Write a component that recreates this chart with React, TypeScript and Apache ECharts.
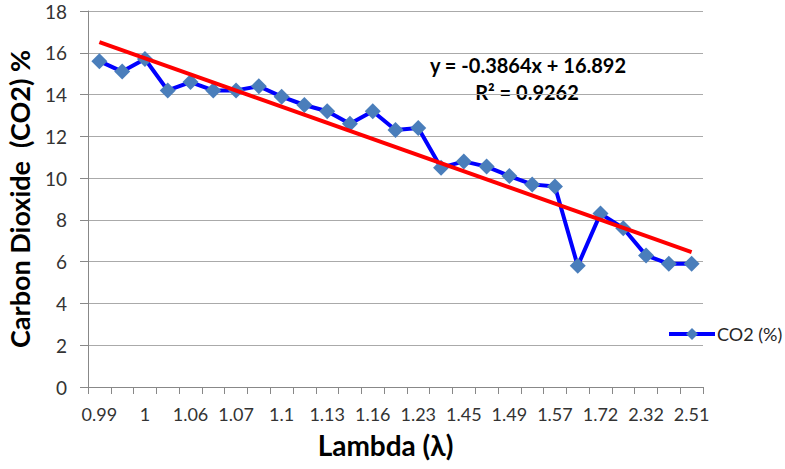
import { useEffect, useRef } from 'react';
import * as echarts from 'echarts';

// lambda categories; only every other one is labelled in the source chart
const lambdaLabels = [
  '0.99', '', '1', '', '1.06', '', '1.07', '', '1.1', '', '1.13', '', '1.16', '',
  '1.23', '', '1.45', '', '1.49', '', '1.57', '', '1.72', '', '2.32', '', '2.51',
];

const co2Values = [
  15.6, 15.1, 15.7, 14.2, 14.6, 14.2, 14.2, 14.4, 13.9, 13.5, 13.2, 12.6, 13.2, 12.3,
  12.4, 10.5, 10.8, 10.55, 10.1, 9.7, 9.6, 5.8, 8.3, 7.6, 6.3, 5.9, 5.9,
];

// linear trendline end points (y = -0.3864x + 16.892)
const trendStart = 16.51;
const trendEnd = 6.46;

const yTicks = { min: 0, max: 18, interval: 2 };

const FONT = 'Lato, "Open Sans", sans-serif';

export default function App() {
  const ref = useRef<HTMLDivElement>(null);

  useEffect(() => {
    document.body.style.margin = '0';
    const dom = ref.current;
    if (!dom) return;
    const chart = echarts.init(dom, undefined, { renderer: 'svg' });

    const last = lambdaLabels.length - 1;
    const trend = lambdaLabels.map((_, i) => (i === 0 ? trendStart : i === last ? trendEnd : null));

    chart.setOption({
      animation: false,
      textStyle: { fontFamily: FONT },
      grid: { left: 88, right: 82, top: 11, bottom: 82, containLabel: false, outerBoundsMode: 'none' },
      legend: {
        data: ['CO2 (%)'],
        left: 662,
        top: 320,
        itemWidth: 46,
        itemHeight: 15,
        itemGap: 4,
        lineStyle: { width: 4 },
        textStyle: { fontSize: 18, color: '#262626', fontFamily: FONT, padding: [0, 0, 0, -3] },
      },
      graphic: [
        {
          type: 'text',
          x: 528,
          y: 65,
          style: {
            text: 'y = -0.3864x + 16.892',
            font: `bold 20px ${FONT}`,
            fill: '#000',
            align: 'center',
            verticalAlign: 'middle',
          },
        },
        {
          type: 'text',
          x: 527,
          y: 92,
          style: {
            text: 'R² = 0.9262',
            font: `bold 20px ${FONT}`,
            fill: '#000',
            align: 'center',
            verticalAlign: 'middle',
          },
        },
      ],
      xAxis: {
        type: 'category',
        data: lambdaLabels,
        boundaryGap: true,
        name: 'Lambda (λ)',
        nameLocation: 'middle',
        nameGap: 44,
        nameTextStyle: {
          fontSize: 28,
          fontWeight: 'bold',
          color: '#000',
          fontFamily: FONT,
          padding: [0, 20, 0, 0],
        },
        axisLine: { lineStyle: { color: '#888', width: 1 } },
        axisTick: { show: true, interval: 0, length: 7, lineStyle: { color: '#888' } },
        axisLabel: { interval: 0, fontSize: 18, color: '#333', margin: 18 },
      },
      yAxis: {
        type: 'value',
        ...yTicks,
        name: 'Carbon Dioxide  (CO2) %',
        nameLocation: 'middle',
        nameGap: 55,
        nameTextStyle: { fontSize: 27, fontWeight: 'bold', color: '#000', fontFamily: FONT },
        axisLine: { show: true, lineStyle: { color: '#888', width: 1 } },
        axisTick: { show: true, length: 8, lineStyle: { color: '#888' } },
        axisLabel: { fontSize: 19, color: '#333', margin: 21 },
        splitLine: { lineStyle: { color: '#aaa', width: 1 } },
      },
      series: [
        {
          name: 'CO2 (%)',
          type: 'line',
          data: co2Values,
          symbol: 'diamond',
          symbolSize: 16,
          lineStyle: { color: '#0000ff', width: 4 },
          itemStyle: { color: '#4a7ebb' },
          z: 2,
        },
        {
          name: 'trend',
          type: 'line',
          data: trend,
          connectNulls: true,
          showSymbol: false,
          symbol: 'none',
          lineStyle: { color: '#ff0000', width: 4 },
          z: 3,
        },
      ],
    } as echarts.EChartsOption);

    return () => {
      chart.dispose();
    };
  }, []);

  return <div ref={ref} style={{ width: 785, height: 469 }} />;
}
